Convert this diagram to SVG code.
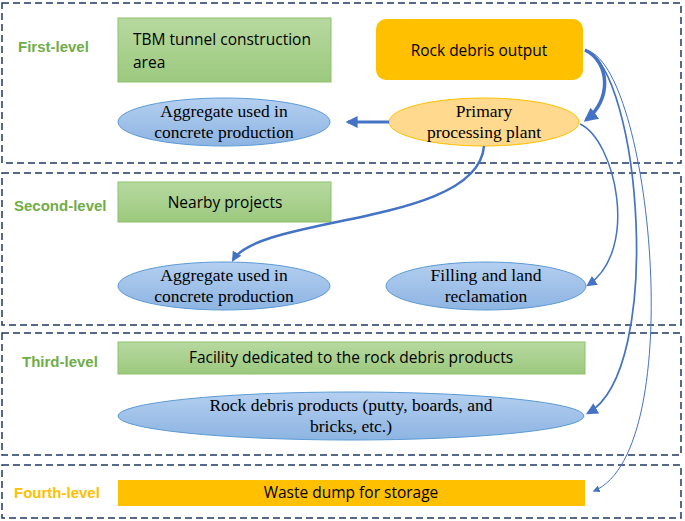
<svg xmlns="http://www.w3.org/2000/svg" width="685" height="521" viewBox="0 0 685 521">
<defs>
<marker id="ah" viewBox="0 0 10 10" refX="8" refY="5" markerWidth="4" markerHeight="4" orient="auto"><path d="M0,0 L10,5 L0,10 z" fill="#4472c4"/></marker>
<marker id="ahs" viewBox="0 0 10 10" refX="8" refY="5" markerWidth="7" markerHeight="7" orient="auto"><path d="M0,0 L10,5 L0,10 z" fill="#4472c4"/></marker>
<linearGradient id="gg" x1="0" y1="0" x2="0" y2="1"><stop offset="0" stop-color="#b7d9a0"/><stop offset="1" stop-color="#9cc97e"/></linearGradient>
<linearGradient id="bg" x1="0" y1="0" x2="0" y2="1"><stop offset="0" stop-color="#b4cff0"/><stop offset="1" stop-color="#8db4e2"/></linearGradient>
</defs>
<style>
.lvl{fill:none;stroke:#1f3864;stroke-width:1.5;stroke-dasharray:7,4}
.lab{font-family:"Liberation Sans",Arial,sans-serif;font-weight:bold;font-size:15px;fill:#70ad47}
.g{fill:url(#gg);stroke:#8cc16a;stroke-width:1}
.b{fill:url(#bg);stroke:#5b9bd5;stroke-width:1}
.o{fill:#ffc000}
.t{font-family:"Open Sans","Liberation Sans",sans-serif;font-size:15.5px;fill:#000}
.s{font-family:"Liberation Serif","Times New Roman",serif;font-size:17.5px;fill:#000}
.c{fill:none;stroke:#4472c4}
</style>
<rect class="lvl" x="2" y="3" width="679" height="160"/>
<rect class="lvl" x="2" y="173" width="679" height="152"/>
<rect class="lvl" x="2" y="333" width="679" height="122"/>
<rect class="lvl" x="2" y="465" width="679" height="53"/>
<text class="lab" x="18" y="52">First-level</text>
<text class="lab" x="14" y="211">Second-level</text>
<text class="lab" x="22" y="367">Third-level</text>
<text class="lab" x="14" y="498" style="fill:#ffc000">Fourth-level</text>
<g id="tbm"><rect class="g" x="118" y="18" width="213" height="64"/><text class="t" x="133" y="45">TBM tunnel construction</text><text class="t" x="133" y="68">area</text></g>
<g id="rock"><rect class="o" x="376" y="19" width="207" height="61" rx="10"/><text class="t" x="479" y="56" text-anchor="middle">Rock debris output</text></g>
<g id="agg1"><ellipse class="b" cx="224" cy="122" rx="106" ry="24"/><text class="s" x="224" y="117" text-anchor="middle">Aggregate used in</text><text class="s" x="224" y="138" text-anchor="middle">concrete production</text></g>
<g id="primary"><ellipse cx="484" cy="122" rx="95" ry="24" fill="#ffd98e" stroke="#ffc000"/><text class="s" x="484" y="117" text-anchor="middle">Primary</text><text class="s" x="484" y="138" text-anchor="middle">processing plant</text></g>
<g id="nearby"><rect class="g" x="118" y="182" width="213" height="40"/><text class="t" x="225" y="208" text-anchor="middle">Nearby projects</text></g>
<g id="agg2"><ellipse class="b" cx="224" cy="286" rx="106" ry="24"/><text class="s" x="224" y="281" text-anchor="middle">Aggregate used in</text><text class="s" x="224" y="302" text-anchor="middle">concrete production</text></g>
<g id="filling"><ellipse class="b" cx="486" cy="286" rx="100" ry="24"/><text class="s" x="486" y="281" text-anchor="middle">Filling and land</text><text class="s" x="486" y="302" text-anchor="middle">reclamation</text></g>
<g id="facility"><rect class="g" x="118" y="342" width="467" height="32"/><text class="t" x="351" y="363" text-anchor="middle">Facility dedicated to the rock debris products</text></g>
<g id="products"><ellipse class="b" cx="351" cy="416" rx="233" ry="24"/><text class="s" x="351" y="411" text-anchor="middle">Rock debris products (putty, boards, and</text><text class="s" x="351" y="432" text-anchor="middle">bricks, etc.)</text></g>
<g id="waste"><rect class="o" x="118" y="480" width="467" height="26"/><text class="t" x="351" y="498" text-anchor="middle">Waste dump for storage</text></g>
<g id="connectors">
<path class="c" stroke-width="3" d="M389,122 L348,122" marker-end="url(#ah)"/>
<path class="c" stroke-width="3.5" stroke="#345da8" d="M585,50 C610,62 612,100 586,120" marker-end="url(#ah)"/>
<path class="c" stroke-width="2.5" d="M484,146 C478,225 260,215 233,260" marker-end="url(#ah)"/>
<path class="c" stroke-width="1.5" d="M580,124 C615,140 640,250 588,285" marker-end="url(#ahs)"/>
<path class="c" stroke-width="1.7" d="M585,50 C640,70 665,370 588,413" marker-end="url(#ahs)"/>
<path class="c" stroke-width="1" d="M585,50 C650,60 690,450 594,491" marker-end="url(#ahs)"/>
</g>
</svg>
